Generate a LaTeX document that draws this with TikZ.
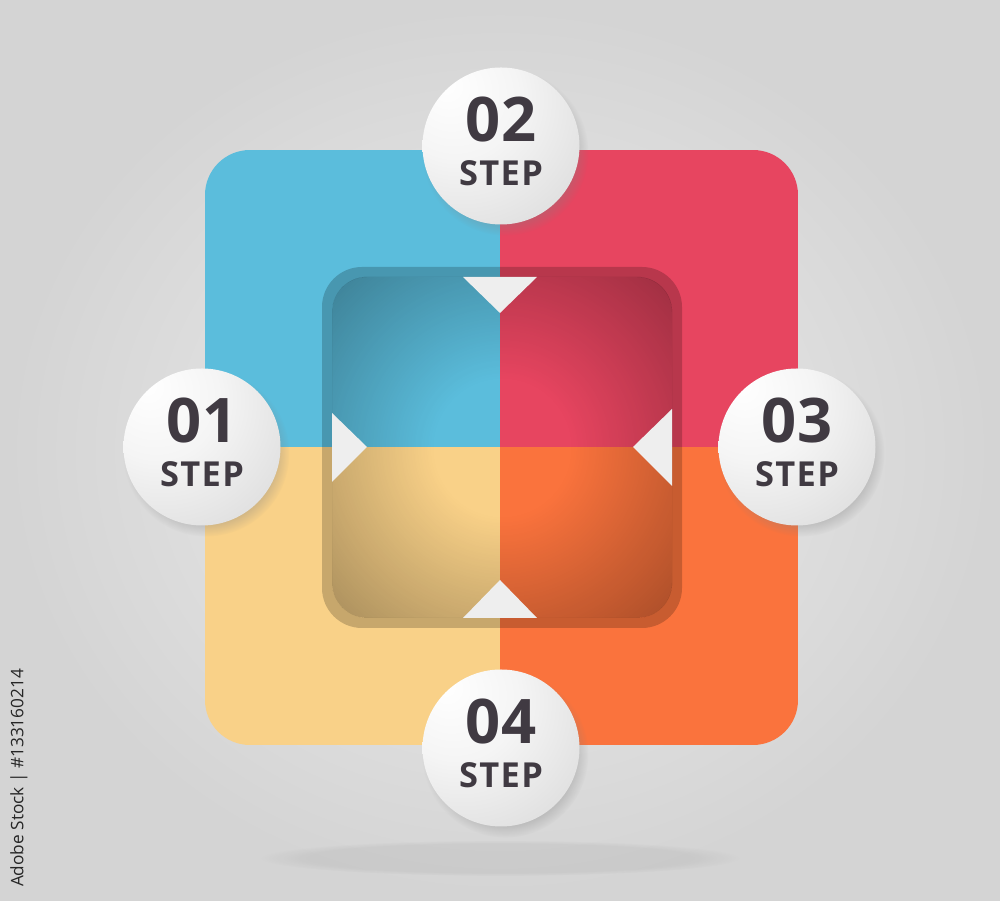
\documentclass[tikz,border=0pt]{standalone}
\usepackage{fontspec}
\setmainfont{Open Sans}
\usepackage{xcolor}
\usepackage{tikz}
\usetikzlibrary{positioning,shadows,fadings}

\definecolor{azzurro}{RGB}{91,189,220}
\definecolor{rosso}{RGB}{231,69,96}
\definecolor{giallo}{RGB}{249,209,136}
\definecolor{arancio}{RGB}{250,115,61}
\definecolor{grigiotesto}{RGB}{64,58,66}
\definecolor{grigiochiaro}{RGB}{238,238,238}

% sfera e vignettatura
\pgfdeclareradialshading{sfera}{\pgfpoint{-18bp}{20bp}}{color(0bp)=(white); color(20bp)=(black!4); color(58bp)=(black!18); color(78bp)=(black!28); color(100bp)=(black!28)}
\pgfdeclareradialshading{vignettaombra}{\pgfpointorigin}{color(0bp)=(black); color(10bp)=(black); color(58bp)=(white); color(100bp)=(white)}
\pgfdeclarefading{vignetta}{\pgfuseshading{vignettaombra}}

\newcommand\cifra[1]{{\fontsize{17.5}{12.6}\selectfont\addfontfeatures{LetterSpace=2}#1}}

\begin{document}
\begin{tikzpicture}[x=0.1mm, y=-0.1mm,
	palla/.style={circle, minimum size=15.7mm, inner sep=0pt, shading=sfera,
		circular drop shadow={shadow xshift=0.4mm, shadow yshift=-0.6mm, opacity=0.3, shadow scale=1.06},
		align=center, text=grigiotesto, text depth=1mm,
		font=\fontsize{9.8}{12.6}\selectfont\bfseries\addfontfeatures{LetterSpace=4}},
	freccia/.style={fill=grigiochiaro}]
	% sfondo
	\shade[inner color=black!7, outer color=black!17] (0,0) rectangle (1000,901);
	\useasboundingbox (0,0) rectangle (1000,901);
	\fill[black, opacity=0.05, path fading=circle with fuzzy edge 20 percent] (500,858) ellipse [x radius=240, y radius=18];
	
	% quadranti
	\begin{scope}
		\clip[rounded corners=4.5mm] (205,150) rectangle (798,745);
		\fill[azzurro] (205,150) rectangle (500,447);
		\fill[rosso] (500,150) rectangle (798,447);
		\fill[giallo] (205,447) rectangle (500,745);
		\fill[arancio] (500,447) rectangle (798,745);
	\end{scope}
	
	% riquadro interno
	\fill[black, opacity=0.2, even odd rule] [rounded corners=4mm] (322,267) rectangle (682,628) [rounded corners=3.5mm] (332,277) rectangle (672,618);
	\fill[black, opacity=0.6, path fading=vignetta, rounded corners=3.5mm] (332,277) rectangle (672,618);
	
	% frecce
	\fill[freccia] (463,277) -- (537,277) -- (500,313) -- cycle;
	\fill[freccia] (332,413) -- (332,482) -- (367,447) -- cycle;
	\fill[freccia] (672,409) -- (672,486) -- (633,447) -- cycle;
	\fill[freccia] (463,618) -- (537,618) -- (500,580) -- cycle;
	
	% cerchi
	\node[palla] (passo1) at (202,447) {\cifra{01}\\STEP};
	\node[palla] (passo2) at (501,146) {\cifra{02}\\STEP};
	\node[palla] (passo3) at (797,447) {\cifra{03}\\STEP};
	\node[palla] (passo4) at (501,748) {\cifra{04}\\STEP};
	
	\node[rotate=90, text=black!85, font=\fontsize{4.9}{5}\selectfont] (marchio) at (19,778) {Adobe Stock | \#133160214};
\end{tikzpicture}
\end{document}
